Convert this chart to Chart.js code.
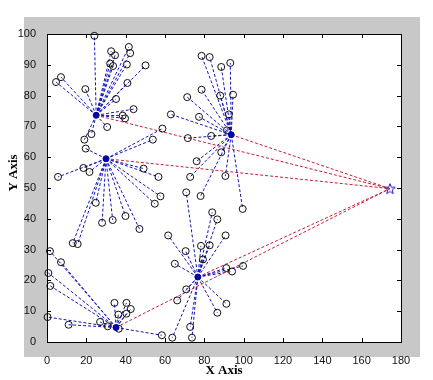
<!DOCTYPE html>
<html>
<head>
<meta charset="utf-8">
<script src="https://cdn.jsdelivr.net/npm/chart.js@4.4.1/dist/chart.umd.min.js"></script>
<style>
  body { margin: 0; background: #fff; }
  #wrap { width: 433px; height: 380px; }
</style>
</head>
<body>
<div id="wrap"><canvas id="net" width="433" height="380"></canvas></div>
<script>
// cluster heads (x, y)
var headX = [25, 30, 93.7, 76.7, 35.1];
var headY = [73.6, 59.5, 67.3, 21.1, 4.7];
// base station
var sinkX = [174.4];
var sinkY = [49.8];

// member nodes of each cluster
var nodes1 = [[24.1,99.4],[32.6,94.4],[34.6,93.1],[41.6,95.8],[42.3,93.8],[32.1,90.4],[33.6,89.6],[40.6,90.1],[50.1,89.8],[4.6,84.4],[7.1,86.0],[19.5,82.1],[40.9,84.1],[35.1,78.9],[44.0,75.6],[38.5,73.5],[39.7,72.6],[30.6,69.8],[22.6,67.5],[19.0,65.7]];
var nodes2 = [[58.7,69.3],[53.8,65.7],[19.7,62.8],[5.6,53.6],[18.5,56.5],[21.6,55.2],[49.1,56.3],[56.7,53.6],[57.7,47.3],[54.8,44.9],[24.8,45.2],[28.0,38.7],[33.4,39.6],[39.9,40.9],[47.0,36.7],[13.1,32.1],[15.6,31.8]];
var nodes3 = [[78.6,92.9],[82.7,92.5],[88.6,89.3],[93.2,90.6],[71.3,79.5],[78.6,81.9],[88.1,80.0],[94.6,80.3],[63.0,73.9],[77.3,73.1],[92.5,73.9],[71.6,66.2],[83.5,66.9],[91.5,68.7],[88.6,61.6],[76.1,58.7],[72.8,53.6],[90.7,53.9],[78.1,47.4],[99.5,43.2]];
var nodes4 = [[70.8,48.6],[84.0,42.1],[86.6,39.8],[61.6,34.6],[90.8,34.6],[78.3,31.2],[82.7,31.4],[70.5,29.5],[79.3,26.8],[65.0,25.4],[91.2,24.0],[94.1,22.9],[99.7,24.7],[70.8,17.1],[66.2,13.5],[91.2,12.4],[86.6,9.5],[72.8,4.9],[73.7,1.4],[63.7,1.4]];
var nodes5 = [[1.5,29.5],[7.1,25.9],[0.7,22.4],[1.7,18.2],[0.3,8.1],[11.0,5.6],[27.0,6.5],[30.9,5.1],[34.3,12.7],[40.4,12.7],[42.6,10.7],[36.3,8.9],[40.4,9.2],[36.5,4.3],[58.4,2.2]];
var clusters = [nodes1, nodes2, nodes3, nodes4, nodes5];

var xTicks = [0, 20, 40, 60, 80, 100, 120, 140, 160, 180];
var yTicks = [0, 10, 20, 30, 40, 50, 60, 70, 80, 90, 100];

// pentagram marker for the base station
function starMarker() {
	var c = document.createElement('canvas');
	c.width = 14; c.height = 14;
	var g = c.getContext('2d');
	g.strokeStyle = '#1a1ad0';
	g.lineWidth = 1;
	g.beginPath();
	for (var i = 0; i < 10; i++) {
		var r = i % 2 ? 2.3 : 5.5;
		var a = -Math.PI / 2 + i * Math.PI / 5;
		var px = 7 + r * Math.cos(a), py = 7.5 + r * Math.sin(a);
		if (i == 0) g.moveTo(px, py); else g.lineTo(px, py);
	}
	g.closePath();
	g.stroke();
	return c;
}

var datasets = [];
var allNodes = [];

clusters.forEach(function(list, k) {
	list.forEach(function(p) {
		allNodes.push({x: p[0], y: p[1]});
		datasets.push({
			data: [{x: headX[k], y: headY[k]}, {x: p[0], y: p[1]}],
			showLine: true,
			borderColor: '#1414b8',
			borderWidth: 1,
			borderDash: [3, 2],
			pointRadius: 0,
			clip: false,
			order: 3
		});
	});
	// cluster head -> base station
	datasets.push({
		data: [{x: headX[k], y: headY[k]}, {x: sinkX[0], y: sinkY[0]}],
		showLine: true,
		borderColor: '#c81e36',
		borderWidth: 1,
		borderDash: [3, 2],
		pointRadius: 0,
		clip: false,
		order: 2
	});
});

datasets.push({
	data: allNodes,
	pointStyle: 'circle',
	pointRadius: 3.5,
	pointBorderColor: '#111',
	pointBackgroundColor: 'rgba(0,0,0,0)',
	pointBorderWidth: 1,
	clip: false,
	order: 1
});
datasets.push({
	data: headX.map(function(x, i) { return {x: x, y: headY[i]}; }),
	pointStyle: 'circle',
	pointRadius: 3,
	pointBorderColor: '#0606a8',
	pointBackgroundColor: '#0606a8',
	clip: false,
	order: 0
});
datasets.push({
	data: [{x: sinkX[0], y: sinkY[0]}],
	pointStyle: starMarker(),
	clip: false,
	order: 0
});

// grey figure background, white axes box, frame and inward ticks
var frame = {
	id: 'frame',
	beforeDraw: function(chart) {
		var c = chart.ctx, a = chart.chartArea;
		c.save();
		c.fillStyle = '#fff';
		c.fillRect(0, 0, chart.width, chart.height);
		c.fillStyle = '#c8c8c8';
		c.fillRect(24, 17, 396, 340);
		c.fillStyle = '#fff';
		c.fillRect(a.left, a.top, a.right - a.left, a.bottom - a.top);
		c.restore();
	},
	afterDraw: function(chart) {
		var c = chart.ctx, a = chart.chartArea;
		var xs = chart.scales.x, ys = chart.scales.y;
		c.save();
		c.strokeStyle = '#000';
		c.lineWidth = 1;
		c.strokeRect(a.left + 0.5, a.top + 0.5, a.right - a.left, a.bottom - a.top);
		c.beginPath();
		xTicks.forEach(function(v) {
			var px = Math.round(xs.getPixelForValue(v)) + 0.5;
			c.moveTo(px, a.bottom); c.lineTo(px, a.bottom - 4);
			c.moveTo(px, a.top); c.lineTo(px, a.top + 4);
		});
		yTicks.forEach(function(v) {
			var py = Math.round(ys.getPixelForValue(v)) + 0.5;
			c.moveTo(a.left, py); c.lineTo(a.left + 4, py);
			c.moveTo(a.right, py); c.lineTo(a.right - 4, py);
		});
		c.stroke();
		// y axis label
		c.translate(14, 173);
		c.rotate(-Math.PI / 2);
		c.font = 'bold 13px "Liberation Serif"';
		c.fillStyle = '#000';
		c.textAlign = 'center';
		c.textBaseline = 'middle';
		c.fillText('Y Axis', 0, 0);
		c.restore();
	}
};

var chart = new Chart(document.getElementById('net'), {
	type: 'scatter',
	data: {datasets: datasets},
	options: {
		responsive: false,
		animation: false,
		events: [],
		layout: {padding: {top: 34, right: 32, left: 0, bottom: 0}},
		plugins: {legend: {display: false}, tooltip: {enabled: false}},
		scales: {
			x: {
				type: 'linear',
				min: 0, max: 180,
				afterFit: function(s) { s.height = 38; },
				afterBuildTicks: function(s) { s.ticks = xTicks.map(function(v) { return {value: v}; }); },
				grid: {display: false},
				border: {display: false},
				ticks: {color: '#111', padding: 4, font: {family: 'Liberation Sans', size: 11}, maxRotation: 0},
				title: {display: true, text: 'X Axis', color: '#000', padding: {top: 0, bottom: 2},
					font: {family: 'Liberation Serif', size: 13, weight: 'bold'}}
			},
			y: {
				type: 'linear',
				min: 0, max: 100,
				afterFit: function(s) { s.width = 47; },
				afterBuildTicks: function(s) { s.ticks = yTicks.map(function(v) { return {value: v}; }); },
				grid: {display: false},
				border: {display: false},
				ticks: {color: '#111', padding: 3, font: {family: 'Liberation Sans', size: 11}}
			}
		}
	},
	plugins: [frame]
});
</script>
</body>
</html>
